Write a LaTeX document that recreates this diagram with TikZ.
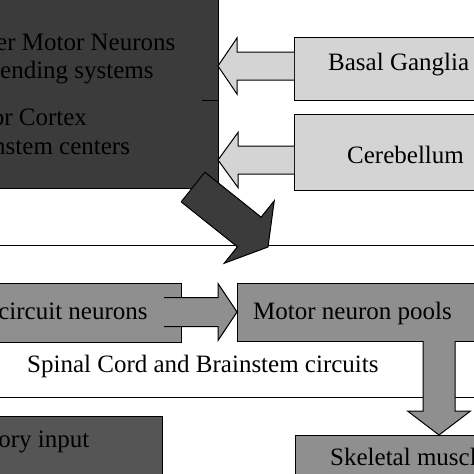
\documentclass[tikz,border=0pt]{standalone}
\usepackage{fontspec}
\setmainfont{Liberation Serif}
\usetikzlibrary{calc}
\definecolor{darkfill}{HTML}{3B3B3B}
\definecolor{lightfill}{HTML}{D4D4D4}
\definecolor{midfill}{HTML}{8F8F8F}
\definecolor{sensefill}{HTML}{555555}

\tikzset{
  blockbox/.style={draw=black, line width=1pt, rectangle, inner sep=0pt, outer sep=0pt},
  txt/.style={inner sep=0pt, anchor=base west, font=\fontsize{25}{30}\selectfont},
}

% fat arrow: style, tail, tip, half shaft, half head, head length
\newcommand{\blockarrow}[6]{%
  \coordinate (ah) at ($(#3)!#6!(#2)$);
  \coordinate (ta) at ($(#2)!#4!90:(#3)$);
  \coordinate (tb) at ($(#2)!#4!-90:(#3)$);
  \fill[#1] (ta) -- ($(ah)!#4!90:(#3)$) -- ($(ah)!#5!90:(#3)$) -- (#3)
    -- ($(ah)!#5!-90:(#3)$) -- ($(ah)!#4!-90:(#3)$) -- (tb) -- cycle;
  \draw[line width=1pt, line join=miter] (ta) -- ($(ah)!#4!90:(#3)$) -- ($(ah)!#5!90:(#3)$) -- (#3)
    -- ($(ah)!#5!-90:(#3)$) -- ($(ah)!#4!-90:(#3)$) -- (tb);
}

\begin{document}
\begin{tikzpicture}[x=1pt, y=-1pt]
    \useasboundingbox (0,0) rectangle (474,474);
    \clip (0,0) rectangle (474,474);
    \fill[white] (0,0) rectangle (474,474);

    % Upper motor neurons
    \node[blockbox, fill=darkfill, minimum width=300pt, minimum height=220pt, anchor=south east] (upper) at (218,188) {};
    \draw[line width=1pt] (202,100) -- (upper.east |- 0,100);
    \node[txt] (umn) at (-47,50) {Upper Motor Neurons};
    \node[txt] (desc) at (-50,78) {Descending systems};
    \node[txt] (mctx) at (-50,125) {Motor Cortex};
    \node[txt] (bstem) at (-50,154) {Brainstem centers};

    % Basal ganglia and cerebellum
    \node[blockbox, fill=lightfill, minimum width=220pt, minimum height=63pt, anchor=north west] (basal) at (294,37) {};
    \node[txt] (bgtext) at (328,70) {Basal Ganglia};
    \node[blockbox, fill=lightfill, minimum width=220pt, minimum height=76pt, anchor=north west] (cereb) at (294,114) {};
    \node[txt] (cbtext) at (347,163) {Cerebellum};

    \coordinate (bgtail) at (294,66);
    \coordinate (cbtail) at (294,160);
    \blockarrow{lightfill}{bgtail}{upper.east |- bgtail}{14pt}{28pt}{19pt}
    \blockarrow{lightfill}{cbtail}{upper.east |- cbtail}{14pt}{27.5pt}{20pt}

    % Spinal cord and brainstem circuits
    \node[blockbox, fill=white, minimum width=520pt, minimum height=152pt, anchor=north west] (spinal) at (-20,245) {};
    \node[txt] (sptext) at (27,372) {Spinal Cord and Brainstem circuits};

    \coordinate (dtail) at (193,187);
    \coordinate (dtip) at (268,247);
    \blockarrow{darkfill}{dtail}{dtip}{19pt}{40pt}{24pt}
    \draw[line width=1pt] (ta) -- (tb);

    \node[blockbox, fill=midfill, minimum width=260pt, minimum height=59pt, anchor=north east] (local) at (181,283) {};
    \node[txt] (lctext) at (-65,319) {Local circuit neurons};
    \node[blockbox, fill=midfill, minimum width=260pt, minimum height=58pt, anchor=north west] (motor) at (237,283) {};
    \node[txt] (mptext) at (253,319) {Motor neuron pools};

    \coordinate (lctail) at (164,312);
    \blockarrow{midfill}{lctail}{motor.west |- lctail}{14.5pt}{28.5pt}{19pt}

    % Sensory input and skeletal muscles
    \node[blockbox, fill=sensefill, minimum width=200pt, minimum height=80pt, anchor=north east] (sense) at (162,416) {};
    \node[txt] (sitext) at (-49,447) {Sensory input};
    \node[blockbox, fill=midfill, minimum width=200pt, minimum height=60pt, anchor=north west] (muscle) at (295,435) {};
    \node[txt] (smtext) at (330,465) {Skeletal muscles};

    \coordinate (mptail) at (439,341);
    \blockarrow{midfill}{mptail}{mptail |- muscle.north}{16pt}{31.5pt}{24pt}
\end{tikzpicture}
\end{document}
